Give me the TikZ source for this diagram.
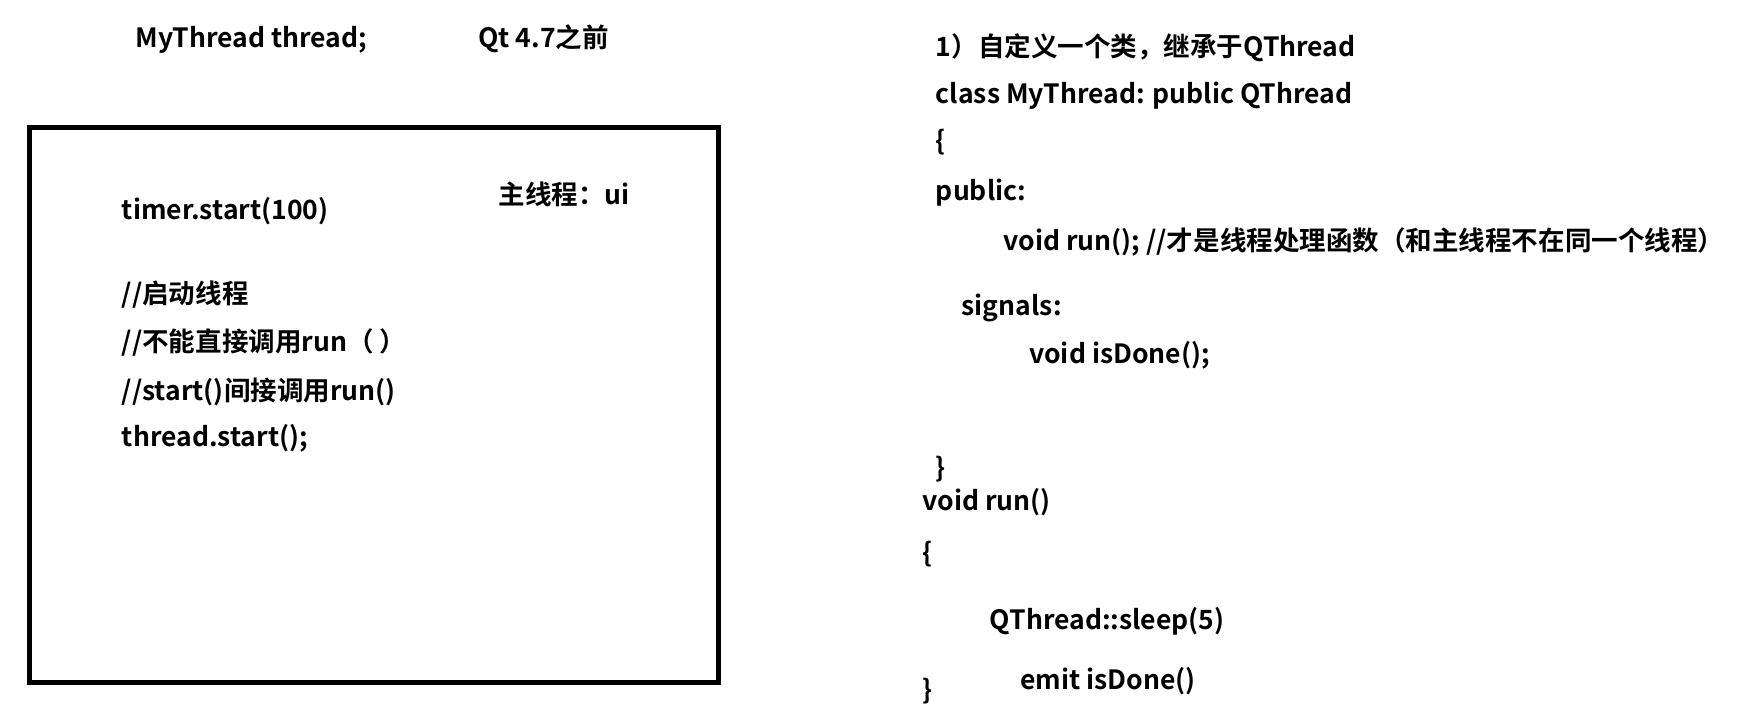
\documentclass[tikz,border=0pt]{standalone}
\usepackage{fontspec}
\setmainfont{Noto Sans CJK SC}[BoldFont={* Bold}]
\begin{document}
\begin{tikzpicture}[x=0.5pt,y=-0.5pt,
  t/.style={anchor=base west,inner sep=0pt,font=\fontsize{11.8}{13}\selectfont\bfseries}]
\useasboundingbox (0,0) rectangle (1568,636);
\fill[white] (0,0) rectangle (1568,636);
\node[t] (a1) at (120,42) {MyThread thread;};
\node[t] (a2) at (425,42) {Qt 4.7之前};
\draw[line width=2.2pt] (26,113) rectangle (639,607);
\node[t] (b1) at (108,195) {timer.start(100)};
\node[t] (b2) at (443,182) {主线程：ui};
\node[t] (b3) at (108,270) {//启动线程};
\node[t] (b4) at (108,313) {//不能直接调用run（ ）};
\node[t] (b5) at (108,356) {//start()间接调用run()};
\node[t] (b6) at (108,397) {thread.start();};
\node[t] (c1) at (832,50) {1）自定义一个类，继承于QThread};
\node[t] (c2) at (832,92) {class MyThread: public QThread};
\node[t] (c3) at (832,134) {\{};
\node[t] (c4) at (832,178) {public:};
\node[t] (c5) at (892,223) {void run(); //才是线程处理函数（和主线程不在同一个线程）};
\node[t] (c6) at (855,281) {signals:};
\node[t] (c7) at (915,323) {void isDone();};
\node[t] (c8) at (832,425) {\}};
\node[t] (c9) at (820,454) {void run()};
\node[t] (c10) at (820,500) {\{};
\node[t] (c11) at (880,560) {QThread::sleep(5)};
\node[t] (c12) at (907,613) {emit isDone()};
\node[t] (c13) at (820,622) {\}};
\end{tikzpicture}
\end{document}
